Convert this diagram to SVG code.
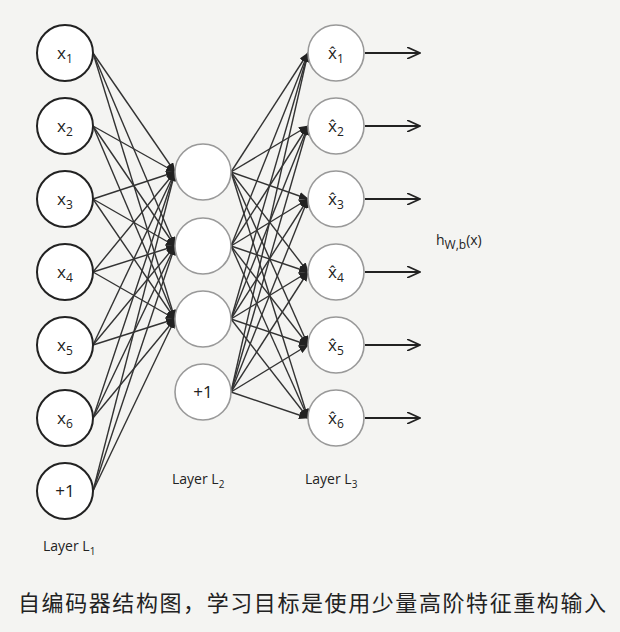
<svg xmlns="http://www.w3.org/2000/svg" width="620" height="632" viewBox="0 0 620 632">
<style>
.n{fill:#fff;stroke:#222;stroke-width:2}
.g{fill:#fff;stroke:#999;stroke-width:1.6}
.t{font-family:"Open Sans","DejaVu Sans",sans-serif;font-size:17px;fill:#222;text-anchor:middle}
.s{font-size:12px}
.c line{stroke:#333;stroke-width:1.4;marker-end:url(#a)}
.lbl{font-family:"Open Sans","DejaVu Sans",sans-serif;font-size:14px;fill:#222}
</style>
<defs><marker id="a" markerWidth="10" markerHeight="8" refX="9" refY="4" orient="auto" markerUnits="userSpaceOnUse"><path d="M0,0L10,4L0,8z" fill="#222"/></marker>
<marker id="o" markerWidth="14" markerHeight="12" refX="13" refY="6" orient="auto" markerUnits="userSpaceOnUse"><path d="M0,0L13,6L0,12" fill="none" stroke="#222" stroke-width="1.6"/></marker></defs>
<rect width="620" height="632" fill="#f4f4f2"/>
<g class="c">
<line x1="93" y1="53" x2="175" y2="172"/><line x1="93" y1="53" x2="175" y2="246"/><line x1="93" y1="53" x2="175" y2="319"/>
<line x1="93" y1="126" x2="175" y2="172"/><line x1="93" y1="126" x2="175" y2="246"/><line x1="93" y1="126" x2="175" y2="319"/>
<line x1="93" y1="199" x2="175" y2="172"/><line x1="93" y1="199" x2="175" y2="246"/><line x1="93" y1="199" x2="175" y2="319"/>
<line x1="93" y1="272" x2="175" y2="172"/><line x1="93" y1="272" x2="175" y2="246"/><line x1="93" y1="272" x2="175" y2="319"/>
<line x1="93" y1="345" x2="175" y2="172"/><line x1="93" y1="345" x2="175" y2="246"/><line x1="93" y1="345" x2="175" y2="319"/>
<line x1="93" y1="418" x2="175" y2="172"/><line x1="93" y1="418" x2="175" y2="246"/><line x1="93" y1="418" x2="175" y2="319"/>
<line x1="93" y1="491" x2="175" y2="172"/><line x1="93" y1="491" x2="175" y2="246"/><line x1="93" y1="491" x2="175" y2="319"/>
<line x1="231" y1="172" x2="308" y2="53"/><line x1="231" y1="172" x2="308" y2="126"/><line x1="231" y1="172" x2="308" y2="199"/><line x1="231" y1="172" x2="308" y2="272"/><line x1="231" y1="172" x2="308" y2="345"/><line x1="231" y1="172" x2="308" y2="418"/>
<line x1="231" y1="246" x2="308" y2="53"/><line x1="231" y1="246" x2="308" y2="126"/><line x1="231" y1="246" x2="308" y2="199"/><line x1="231" y1="246" x2="308" y2="272"/><line x1="231" y1="246" x2="308" y2="345"/><line x1="231" y1="246" x2="308" y2="418"/>
<line x1="231" y1="319" x2="308" y2="53"/><line x1="231" y1="319" x2="308" y2="126"/><line x1="231" y1="319" x2="308" y2="199"/><line x1="231" y1="319" x2="308" y2="272"/><line x1="231" y1="319" x2="308" y2="345"/><line x1="231" y1="319" x2="308" y2="418"/>
<line x1="231" y1="392" x2="308" y2="53"/><line x1="231" y1="392" x2="308" y2="126"/><line x1="231" y1="392" x2="308" y2="199"/><line x1="231" y1="392" x2="308" y2="272"/><line x1="231" y1="392" x2="308" y2="345"/><line x1="231" y1="392" x2="308" y2="418"/>
</g>
<g id="outputs" stroke="#222" stroke-width="1.8" marker-end="url(#o)">
<line x1="365" y1="53" x2="420" y2="53"/><line x1="365" y1="126" x2="420" y2="126"/><line x1="365" y1="199" x2="420" y2="199"/><line x1="365" y1="272" x2="420" y2="272"/><line x1="365" y1="345" x2="420" y2="345"/><line x1="365" y1="418" x2="420" y2="418"/>
</g>
<g id="L1">
<g id="x1"><circle class="n" cx="65" cy="53" r="28"/><text class="t" x="65" y="59">x<tspan class="s" dy="4">1</tspan></text></g>
<g id="x2"><circle class="n" cx="65" cy="126" r="28"/><text class="t" x="65" y="132">x<tspan class="s" dy="4">2</tspan></text></g>
<g id="x3"><circle class="n" cx="65" cy="199" r="28"/><text class="t" x="65" y="205">x<tspan class="s" dy="4">3</tspan></text></g>
<g id="x4"><circle class="n" cx="65" cy="272" r="28"/><text class="t" x="65" y="278">x<tspan class="s" dy="4">4</tspan></text></g>
<g id="x5"><circle class="n" cx="65" cy="345" r="28"/><text class="t" x="65" y="351">x<tspan class="s" dy="4">5</tspan></text></g>
<g id="x6"><circle class="n" cx="65" cy="418" r="28"/><text class="t" x="65" y="424">x<tspan class="s" dy="4">6</tspan></text></g>
<g id="b1"><circle class="n" cx="65" cy="491" r="28"/><text class="t" x="65" y="497">+1</text></g>
</g>
<g id="L2">
<g id="h1"><circle class="g" cx="203" cy="172" r="28"/></g>
<g id="h2"><circle class="g" cx="203" cy="246" r="28"/></g>
<g id="h3"><circle class="g" cx="203" cy="319" r="28"/></g>
<g id="b2"><circle class="g" cx="203" cy="392" r="28"/><text class="t" x="203" y="398">+1</text></g>
</g>
<g id="L3">
<g id="y1"><circle class="g" cx="336" cy="53" r="28"/><text class="t" x="336" y="59">x̂<tspan class="s" dy="4">1</tspan></text></g>
<g id="y2"><circle class="g" cx="336" cy="126" r="28"/><text class="t" x="336" y="132">x̂<tspan class="s" dy="4">2</tspan></text></g>
<g id="y3"><circle class="g" cx="336" cy="199" r="28"/><text class="t" x="336" y="205">x̂<tspan class="s" dy="4">3</tspan></text></g>
<g id="y4"><circle class="g" cx="336" cy="272" r="28"/><text class="t" x="336" y="278">x̂<tspan class="s" dy="4">4</tspan></text></g>
<g id="y5"><circle class="g" cx="336" cy="345" r="28"/><text class="t" x="336" y="351">x̂<tspan class="s" dy="4">5</tspan></text></g>
<g id="y6"><circle class="g" cx="336" cy="418" r="28"/><text class="t" x="336" y="424">x̂<tspan class="s" dy="4">6</tspan></text></g>
</g>
<text class="lbl" x="436" y="245" font-size="17">h<tspan font-size="12" dy="4">W,b</tspan><tspan dy="-4">(x)</tspan></text>
<text class="lbl" x="43" y="551">Layer L<tspan font-size="10" dy="4">1</tspan></text>
<text class="lbl" x="172" y="484">Layer L<tspan font-size="10" dy="4">2</tspan></text>
<text class="lbl" x="305" y="484">Layer L<tspan font-size="10" dy="4">3</tspan></text>
<text x="18" y="611" font-family="'Noto Sans CJK SC',sans-serif" font-size="22" textLength="588" lengthAdjust="spacing" fill="#222">自编码器结构图，学习目标是使用少量高阶特征重构输入</text>
</svg>
